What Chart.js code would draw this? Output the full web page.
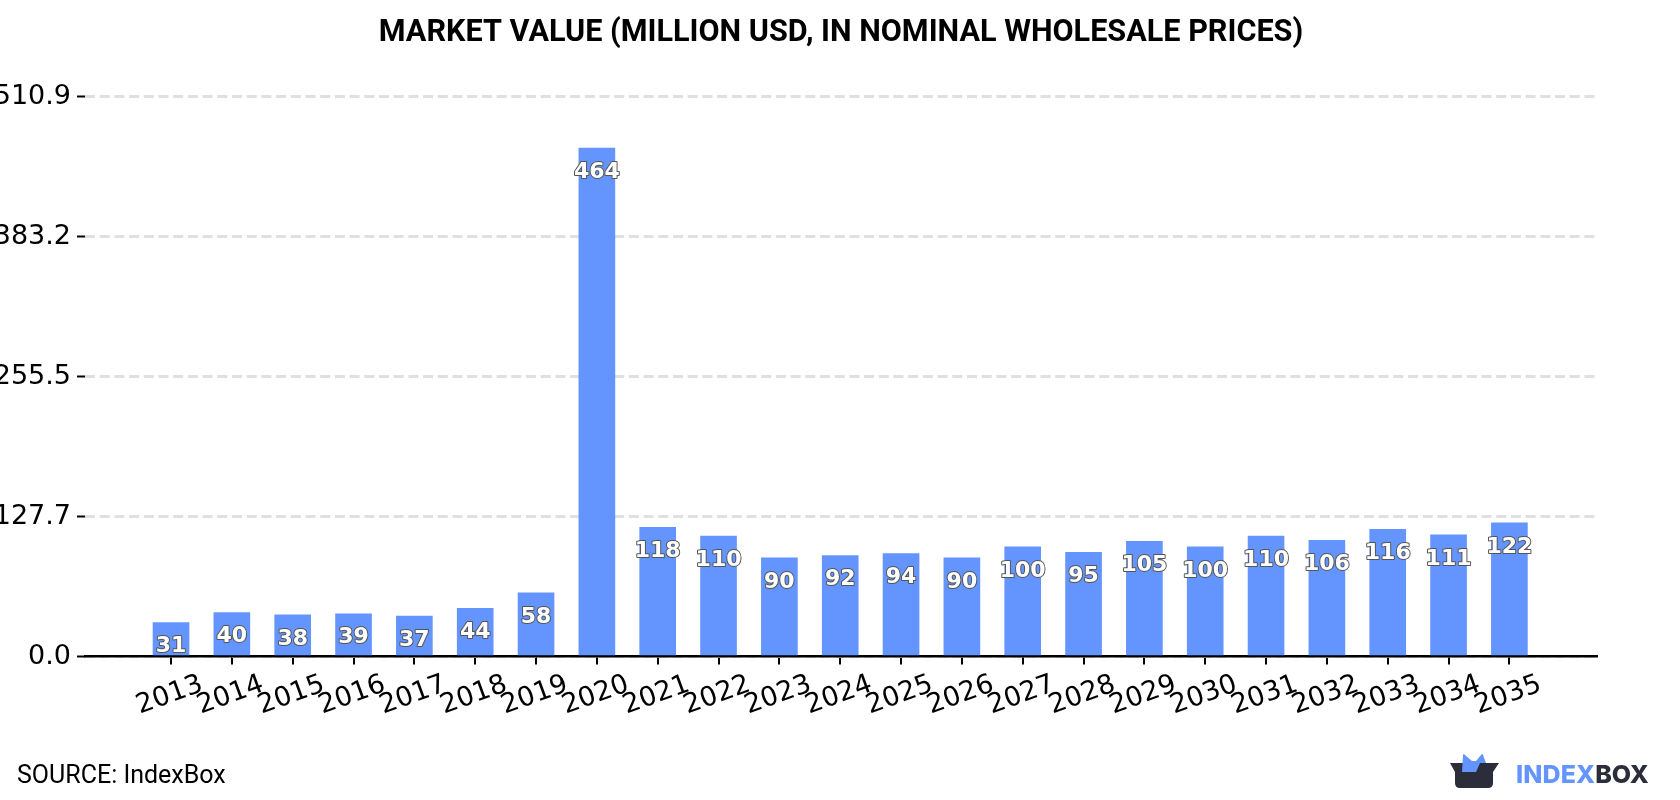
<!DOCTYPE html>
<html>
<head>
<meta charset="utf-8">
<title>Market value</title>
<script src="https://cdn.jsdelivr.net/npm/chart.js@4"></script>
<style>
    html, body { margin: 0; padding: 0; background: #fff; overflow: hidden; }
    #wrap { position: relative; width: 1680px; height: 800px; }
    #source { position: absolute; left: 17px; top: 760px; font: 25px Roboto, sans-serif; color: #000; line-height: 30px; }
    #logo { position: absolute; left: 1448px; top: 750px; }
    #brand { position: absolute; left: 1516px; top: 757px; font: 800 25px Inter, sans-serif; line-height: 34px; letter-spacing: 0.1px; color: #2b2d3a; }
    #brand span { color: #6495ff; }
</style>
</head>
<body>
<div id="wrap">
    <canvas id="myChart" width="1680" height="800"></canvas>
    <div id="source">SOURCE: IndexBox</div>
    <svg id="logo" width="54" height="42" viewBox="0 0 54 42">
        <path d="M2 13 H51 L45 22 V33 Q45 38 40 38 H12 Q7 38 7 33 V22 Z" fill="#2b2d3a"/>
        <path d="M14 22 L15 5 Q15.5 3 17 5 L24 11 L28 11 L33 5 Q34.5 3 35 5 L38 13 L32 13 L28 22 Z" fill="#6495ff"/>
    </svg>
    <div id="brand"><span>INDEX</span>BOX</div>
</div>
<script>
// Chart data
const years = [2013, 2014, 2015, 2016, 2017, 2018, 2019, 2020, 2021, 2022, 2023, 2024,
    2025, 2026, 2027, 2028, 2029, 2030, 2031, 2032, 2033, 2034, 2035];
const marketValues = [31, 40, 38, 39, 37, 44, 58, 464, 118, 110, 90, 92,
    94, 90, 100, 95, 105, 100, 110, 106, 116, 111, 122];
const valueTicks = [0, 127.7, 255.5, 383.2, 510.9];

// Writes the value inside each bar, white with a grey outline
const barLabels = {
    id: 'barLabels',
    afterDatasetsDraw(chart) {
        const ctx = chart.ctx;
        ctx.save();
        ctx.font = 'bold 22px "DejaVu Sans"';
        ctx.textAlign = 'center';
        ctx.textBaseline = 'middle';
        ctx.lineJoin = 'round';
        chart.getDatasetMeta(0).data.forEach((bar, i) => {
            const label = String(marketValues[i]);
            ctx.lineWidth = 2;
            ctx.strokeStyle = '#555';
            ctx.strokeText(label, bar.x, bar.y + 24);
            ctx.fillStyle = '#fff';
            ctx.fillText(label, bar.x, bar.y + 24);
        });
        ctx.restore();
    }
};

function renderChart() {
    const ctx = document.getElementById('myChart').getContext('2d');
    new Chart(ctx, {
        type: 'bar',
        data: {
            datasets: [{
                data: years.map((year, i) => ({ x: year, y: marketValues[i] })),
                backgroundColor: '#6495ff',
                barThickness: 36
            }]
        },
        options: {
            responsive: false,
            animation: false,
            layout: { padding: { right: 83 } },
            plugins: {
                legend: { display: false },
                tooltip: { enabled: false },
                title: {
                    display: true,
                    fullSize: false, // centre over the plot area
                    text: 'MARKET VALUE (MILLION USD, IN NOMINAL WHOLESALE PRICES)',
                    color: '#000',
                    font: { family: 'Roboto', size: 30.6, weight: 'bold' },
                    padding: { top: 15, bottom: 45 }
                }
            },
            scales: {
                x: {
                    type: 'linear',
                    offset: false,
                    min: 2011.586,
                    max: 2036.44,
                    afterBuildTicks(scale) {
                        scale.ticks = years.map(year => ({ value: year }));
                    },
                    afterFit(scale) {
                        scale.height = 143.5;
                    },
                    grid: { offset: false, drawOnChartArea: false, color: '#000', tickLength: 8, lineWidth: 2 },
                    border: { color: '#000', width: 2.5 },
                    ticks: {
                        autoSkip: false,
                        minRotation: 20,
                        maxRotation: 20,
                        labelOffset: 31,
                        padding: 4,
                        color: '#000',
                        font: { family: 'DejaVu Sans', size: 27 },
                        callback: value => String(value)
                    }
                },
                y: {
                    min: 0,
                    max: 510.9,
                    afterBuildTicks(scale) {
                        scale.ticks = valueTicks.map(value => ({ value }));
                    },
                    afterFit(scale) {
                        scale.width = 85;
                    },
                    grid: {
                        color: '#e0e0e0',
                        lineWidth: 3,
                        tickColor: '#000',
                        tickWidth: 2,
                        tickLength: 8
                    },
                    border: { display: false, dash: [10, 4.7] },
                    ticks: {
                        padding: 6,
                        color: '#000',
                        font: { family: 'DejaVu Sans', size: 27 },
                        callback: value => value.toFixed(1)
                    }
                }
            }
        },
        plugins: [barLabels]
    });
}

document.addEventListener('DOMContentLoaded', renderChart);
</script>
</body>
</html>
